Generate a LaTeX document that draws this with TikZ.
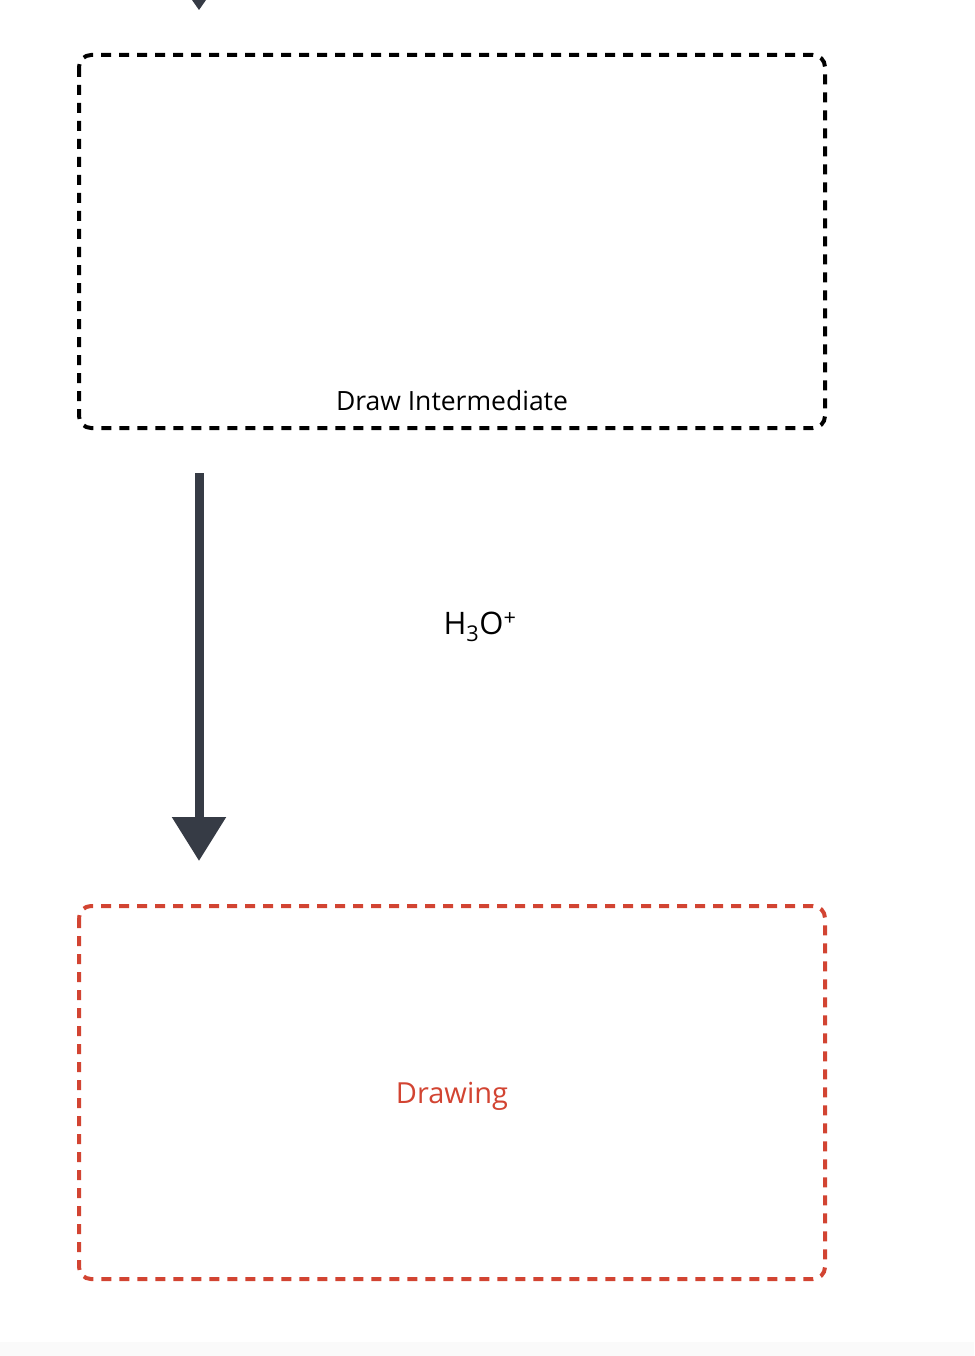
\documentclass[tikz,border=0pt]{standalone}
\usepackage{fontspec}
\setmainfont{Open Sans}
\usetikzlibrary{arrows.meta}
\definecolor{arr}{HTML}{363B45}
\definecolor{redc}{HTML}{D24432}
\begin{document}
\begin{tikzpicture}[x=1pt,y=-1pt,
  boxs/.style={line width=4pt,dash pattern=on 10pt off 8pt,rounded corners=12pt},
  lbl/.style={font=\fontsize{26.5}{30}\selectfont,inner sep=0pt}]
\useasboundingbox (0,0) rectangle (974,1356);
\fill[gray!4] (0,1342) rectangle (974,1356);
\fill[arr] (192,0) -- (206,0) -- (199,10) -- cycle;
\draw[boxs,black] (79,55) rectangle (825,428);
\node[lbl] (l1) at (452,401) {Draw Intermediate};
\coordinate (a) at (199,473);
\coordinate (b) at (199,861);
\draw[arr,line width=9pt,-{Triangle[length=44pt,width=52pt]}] (a) -- (b);
\node[lbl,font=\fontsize{31}{34}\selectfont] (h) at (480,627) {H\textsubscript{3}O\textsuperscript{+}};
\draw[boxs,redc] (79,906) rectangle (825,1279);
\node[lbl,text=redc,font=\fontsize{29}{32}\selectfont] (d) at (452,1096) {Drawing};
\end{tikzpicture}
\end{document}
